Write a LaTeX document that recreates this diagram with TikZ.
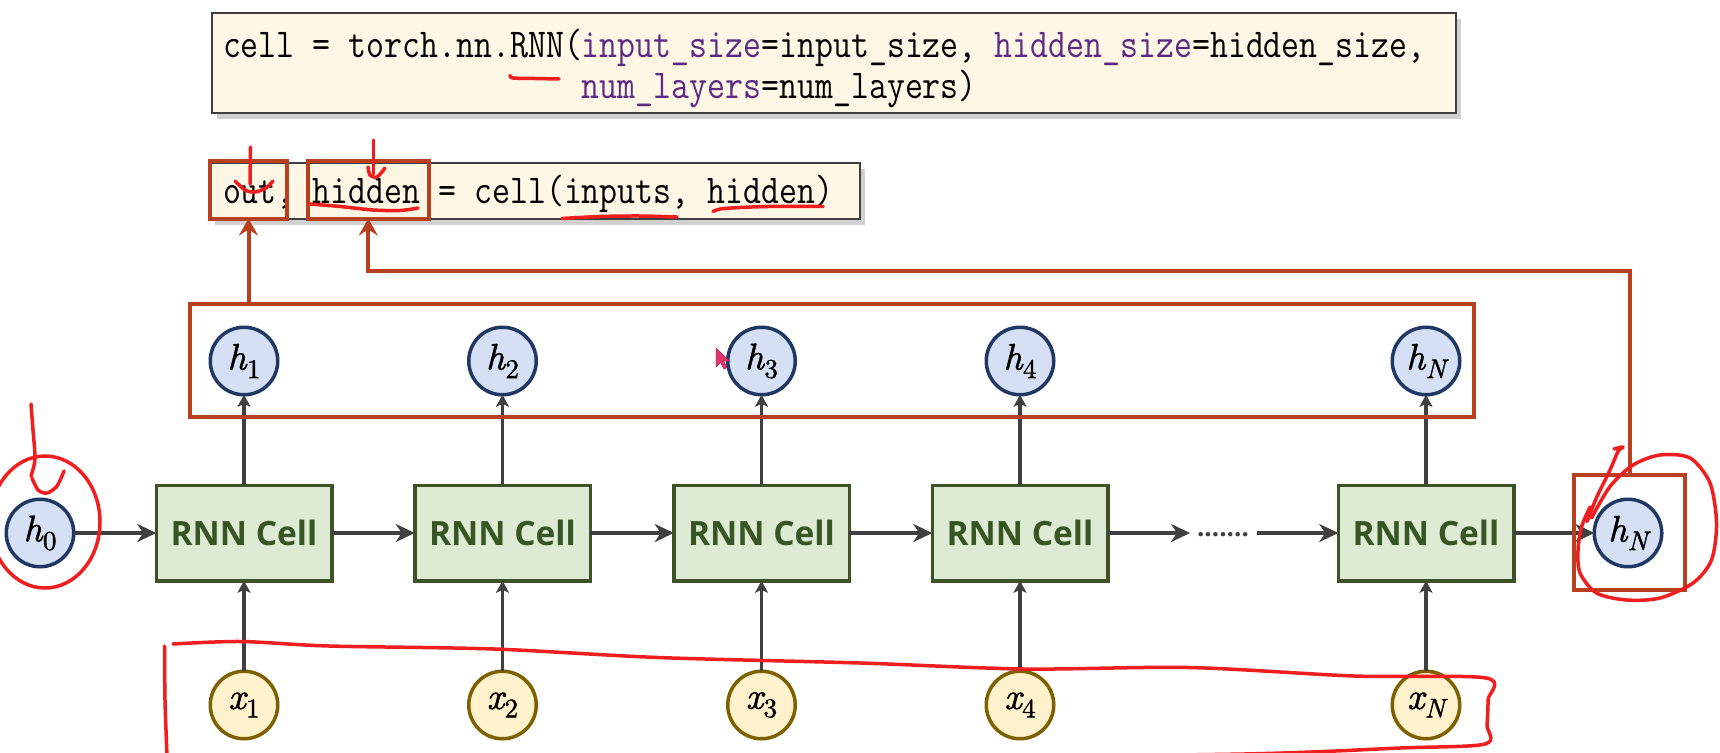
\documentclass[tikz,border=0pt]{standalone}
\usepackage{fontspec}
\usepackage{graphicx}
\newfontfamily\cellfont{Open Sans}
\newfontfamily\varitfont{lmroman10-italic.otf}[FakeBold=1.4]
\newfontfamily\varupfont{lmroman10-regular.otf}[FakeBold=1.4]
\usetikzlibrary{arrows.meta,shadows}
\definecolor{codefill}{HTML}{FFF7E6}
\definecolor{codeborder}{HTML}{3F3F3F}
\definecolor{kwpurple}{HTML}{5E2A84}
\definecolor{cellfill}{HTML}{DDEBD4}
\definecolor{cellborder}{HTML}{3D5225}
\definecolor{celltext}{HTML}{375623}
\definecolor{hfill}{HTML}{D6E0F5}
\definecolor{hborder}{HTML}{203864}
\definecolor{xfill}{HTML}{FFF2CC}
\definecolor{xborder}{HTML}{7F6000}
\definecolor{arrowgray}{HTML}{404040}
\definecolor{hlred}{HTML}{B8401E}
\definecolor{penred}{HTML}{F01E1E}
\definecolor{cursorpink}{HTML}{E8326E}
\newcommand\cd[1]{\scalebox{0.85}[1]{\fontsize{41}{41}\selectfont\ttfamily #1}}
\newcommand\kw[1]{\textcolor{kwpurple}{#1}}
\newcommand\var[2]{{\varitfont #1}\kern0.5pt\raisebox{-8.5pt}{\fontsize{27}{27}\selectfont\varupfont #2}}
\newcommand\varN[1]{{\varitfont #1}\kern0.5pt\raisebox{-8.5pt}{\fontsize{27}{27}\selectfont\varitfont N}}
\begin{document}
\begin{tikzpicture}[x=1pt,y=-1pt,
  every node/.style={inner sep=0pt, outer sep=0pt},
  codebox/.style={draw=codeborder, line width=2.2pt, fill=codefill,
    drop shadow={shadow xshift=5pt, shadow yshift=-6pt, opacity=0.3, fill=black!60}},
  cell/.style={draw=cellborder, line width=3.5pt, fill=cellfill,
    minimum width=175.5pt, minimum height=95.5pt,
    font=\cellfont\bfseries\fontsize{33.5}{33.5}\selectfont, text=celltext},
  hnode/.style={circle, draw=hborder, fill=hfill, line width=3.5pt,
    minimum size=67.5pt, font=\fontsize{37}{37}\selectfont},
  xnode/.style={circle, draw=xborder, fill=xfill, line width=3.5pt,
    minimum size=67.5pt, font=\fontsize{37}{37}\selectfont},
  flow/.style={draw=arrowgray, line width=3.5pt, -{Stealth[length=19pt,width=18pt,inset=6pt]}},
  upflow/.style={draw=arrowgray, line width=3.5pt, -{Stealth[length=12pt,width=13pt,inset=3pt]}},
  hilite/.style={draw=hlred, line width=4pt},
  hlarrow/.style={draw=hlred, line width=4pt, -{Stealth[length=17pt,width=19pt,inset=6pt]}},
  pen/.style={draw=penred, line width=3.5pt, line cap=round, line join=round}
]
\fill[white] (0,0) rectangle (1720,752);
\useasboundingbox (0,0) rectangle (1720,752);

% code boxes
\node[codebox, minimum width=1244pt, minimum height=100pt] (code1) at (834,63) {};
\node[anchor=base west] (line1) at (223,57) {\cd{cell = torch.nn.RNN(\kw{input\_size}=input\_size, \kw{hidden\_size}=hidden\_size,}};
\node[anchor=base west] (line2) at (223,98) {\cd{\hphantom{cell = torch.nn.RNN(}\kw{num\_layers}=num\_layers)}};
\node[codebox, minimum width=650pt, minimum height=56pt] (code2) at (535,191) {};
\node[anchor=base west] (line3) at (223,203) {\cd{out, hidden = cell(inputs, hidden)}};

% cells
\node[cell] (c1) at (244,533) {RNN Cell};
\node[cell] (c2) at (502.5,533) {RNN Cell};
\node[cell] (c3) at (761.5,533) {RNN Cell};
\node[cell] (c4) at (1020,533) {RNN Cell};
\node[cell] (c5) at (1426,533) {RNN Cell};

% hidden states
\node[hnode] (h0) at (40,533) {\var{h}{0}};
\node[hnode] (h1) at (244,361) {\var{h}{1}};
\node[hnode] (h2) at (502.5,361) {\var{h}{2}};
\node[hnode] (h3) at (761.5,361) {\var{h}{3}};
\node[hnode] (h4) at (1020,361) {\var{h}{4}};
\node[hnode] (hN) at (1426,361) {\varN{h}};
\node[hnode] (hout) at (1628,533) {\varN{h}};

% inputs
\node[xnode] (x1) at (244,705) {\var{x}{1}};
\node[xnode] (x2) at (502.5,705) {\var{x}{2}};
\node[xnode] (x3) at (761.5,705) {\var{x}{3}};
\node[xnode] (x4) at (1020,705) {\var{x}{4}};
\node[xnode] (xN) at (1426,705) {\varN{x}};

% horizontal flow
\draw[flow] (h0) -- (c1);
\draw[flow] (c1) -- (c2);
\draw[flow] (c2) -- (c3);
\draw[flow] (c3) -- (c4);
\coordinate (dl) at (1190,533);
\coordinate (dr) at (1257,533);
\node[anchor=base, text=arrowgray, font=\cellfont\bfseries\fontsize{26}{26}\selectfont] (dots) at (1223,536) {.......};
\draw[flow] (c4) -- (dl);
\draw[flow] (dr) -- (c5);
\draw[flow] (c5) -- (hout);

% vertical flow
\foreach \i in {1,2,3,4}{
  \draw[upflow] (c\i) -- (h\i);
  \draw[upflow] (x\i) -- (c\i);
}
\draw[upflow] (c5) -- (hN);
\draw[upflow] (xN) -- (c5);

% highlight boxes
\node[hilite, minimum width=77pt, minimum height=58pt] (outbox) at (248.5,189.5) {};
\node[hilite, minimum width=121pt, minimum height=58pt] (hidbox) at (368.3,189.5) {};
\node[hilite, minimum width=1284pt, minimum height=113pt] (hbox) at (832,360.5) {};
\node[hilite, minimum width=111pt, minimum height=115pt] (hNbox) at (1629.5,532.5) {};
\draw[hlarrow] (hbox.north -| outbox.south) -- (outbox.south);
\coordinate (turn) at (1629.5,270.7);
\draw[hlarrow] (hNbox.north) -- (turn) -| (hidbox.south);

% freehand annotations
\draw[pen] plot[smooth] coordinates {(510,75.5) (513,78) (535,78.5) (559,79)};
\draw[pen] (250.5,147) -- (250,184);
\draw[pen] plot[smooth] coordinates {(235,181) (245,190) (255,192) (266,188) (273,181)};
\draw[pen] (373.5,140) -- (373.5,174);
\draw[pen] plot[smooth] coordinates {(368,167) (370,175) (377,177) (385,168)};
\draw[pen] plot[smooth] coordinates {(310,204) (340,206.5) (373,210) (400,210.5) (418,208)};
\draw[pen] plot[smooth] coordinates {(562,218.5) (600,216.5) (640,216) (677,217)};
\draw[pen] plot[smooth] coordinates {(713,211.5) (724,208.5) (768,206.5) (823,206.5)};
% h0
\draw[pen] plot[smooth] coordinates {(31,404) (33,430) (35,459) (31,476)};
\draw[pen] plot[smooth] coordinates {(32,478) (38,490) (47,493) (57,486) (64,471)};
\draw[pen] (45,522) ellipse [x radius=55, y radius=66];
% inputs
\draw[pen] plot[smooth] coordinates {(164.5,646) (165,700) (167,756)};
\draw[pen] plot[smooth] coordinates {(173,644) (241,641.5) (329,646) (494,649) (658,657.5) (860,663) (1024,669) (1189,667.5) (1354,676) (1486,678) (1488,700) (1487,725) (1485,744) (1400,748) (1244,754) (900,758)};
% hN
\draw[pen] plot[smooth] coordinates {(1587,521.5) (1597,496.5) (1610,470) (1618,451.5) (1623,447) (1614,449)};
\draw[pen] plot[smooth] coordinates {(1591.5,518) (1610,486.5) (1633,465) (1660,455) (1690,458) (1710,483) (1716.5,523) (1711.5,560) (1693,583) (1660,598) (1626.5,600) (1596.5,593) (1580,573) (1578,550) (1581.5,527) (1590,507)};

% cursor
\fill[cursorpink, draw=cursorpink!70!black, line width=0.5pt] (716,348) -- (716,367) -- (720.5,362.5) -- (724,369) -- (727,367.5) -- (723.5,361) -- (729.5,361) -- cycle;
\end{tikzpicture}
\end{document}
